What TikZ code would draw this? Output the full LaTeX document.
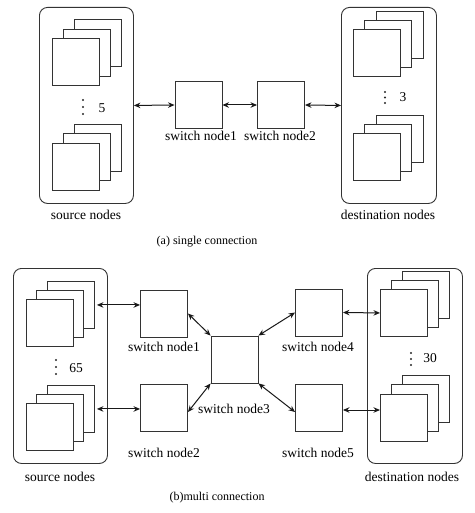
\documentclass[tikz,border=0pt]{standalone}
\usepackage{fontspec}
\setmainfont{Liberation Serif}
\newfontfamily\tnr{Liberation Serif}
\usetikzlibrary{arrows.meta}
\begin{document}
\begin{tikzpicture}[x=1pt,y=-1pt,
  box/.style={draw=black!80, line width=0.9pt, fill=white, minimum size=47pt, inner sep=0pt, anchor=north west},
  sw/.style={draw=black!80, line width=0.9pt, fill=white, minimum size=47pt, inner sep=0pt},
  cont/.style={draw=black!80, line width=0.9pt, rounded corners=8pt, inner sep=0pt, anchor=north west, minimum width=94pt, minimum height=196pt},
  lbl/.style={font=\tnr\fontsize{13.5}{15}\selectfont, inner sep=0pt},
  captxt/.style={font=\tnr\fontsize{12}{14}\selectfont, inner sep=0pt},
  link/.style={{Stealth[length=6.5pt,width=5.5pt]}-{Stealth[length=6.5pt,width=5.5pt]}, line width=1pt, draw=black!90},
  dotc/.style={fill=black!85}
]
\useasboundingbox (0,0) rectangle (474,513);

% ================= (a) single connection =================
\node[cont] (srcA) at (39,7) {};
\node[box] (sA1b) at (74,19) {};
\node[box] (sA1m) at (63,29) {};
\node[box] (sA1f) at (52,38) {};
\node[box] (sA2b) at (74,124) {};
\node[box] (sA2m) at (63,133) {};
\node[box] (sA2f) at (52,143) {};
\fill[dotc] (83,100) circle (1.1pt) (83,107) circle (1.1pt) (83,114) circle (1.1pt);
\node[lbl] (nA) at (102,108) {5};
\node[lbl] (srcAl) at (86,215) {source nodes};

\node[sw] (swA1) at (198.5,105) {};
\node[sw] (swA2) at (281,105) {};
\node[lbl] (swA1l) at (201,136) {switch node1};
\node[lbl] (swA2l) at (280,136) {switch node2};

\node[cont, minimum width=95pt] (dstA) at (341,7) {};
\node[box] (dA1b) at (376,11) {};
\node[box] (dA1m) at (364,20) {};
\node[box] (dA1f) at (353,29) {};
\node[box] (dA2b) at (376,115) {};
\node[box] (dA2m) at (364,124) {};
\node[box] (dA2f) at (353,133) {};
\fill[dotc] (385,92) circle (1.1pt) (385,97.5) circle (1.1pt) (385,103) circle (1.1pt);
\node[lbl] (nA3) at (403,97) {3};
\node[lbl] (dstAl) at (388,215) {destination nodes};

\draw[link] (srcA.east) -- (swA1.west);
\draw[link] (swA1.east) -- (swA2.west);
\draw[link] (swA2.east) -- (dstA.west);

\node[captxt] (capA) at (207,242) {(a) single connection};

% ================= (b) multi connection =================
\node[cont, minimum height=195pt] (srcB) at (13,268) {};
\node[box] (sB1b) at (47,281) {};
\node[box] (sB1m) at (36,290) {};
\node[box] (sB1f) at (26,299) {};
\node[box] (sB2b) at (47,385) {};
\node[box] (sB2m) at (36,394) {};
\node[box] (sB2f) at (26,403) {};
\fill[dotc] (56,360) circle (1.1pt) (56,367) circle (1.1pt) (56,374) circle (1.1pt);
\node[lbl] (nB) at (76,368) {65};
\node[lbl] (srcBl) at (60,477) {source nodes};

\node[sw] (swB1) at (164,313.5) {};
\node[sw] (swB2) at (164,408) {};
\node[sw] (swB3) at (234.5,359.5) {};
\node[sw] (swB4) at (319,312.5) {};
\node[sw] (swB5) at (319,408) {};
\node[lbl] (swB1l) at (164,347) {switch node1};
\node[lbl] (swB2l) at (164,453) {switch node2};
\node[lbl] (swB3l) at (234,409) {switch node3};
\node[lbl] (swB4l) at (318,347) {switch node4};
\node[lbl] (swB5l) at (318,453) {switch node5};

\node[cont, minimum width=95pt, minimum height=195pt] (dstB) at (367,268) {};
\node[box] (dB1b) at (402,271) {};
\node[box] (dB1m) at (391,280) {};
\node[box] (dB1f) at (380,289) {};
\node[box] (dB2b) at (402,375) {};
\node[box] (dB2m) at (391,384) {};
\node[box] (dB2f) at (380,394) {};
\fill[dotc] (411,353) circle (1.1pt) (411,359) circle (1.1pt) (411,365) circle (1.1pt);
\node[lbl] (nB30) at (430,358) {30};
\node[lbl] (dstBl) at (412,477) {destination nodes};

\draw[link, shorten <=2pt] (sB1b.east) -- (sB1b.east -| swB1.west);
\draw[link, shorten <=2pt] (sB2b.east) -- (sB2b.east -| swB2.west);
\draw[link] (swB3.north west) -- (swB1.east);
\draw[link] (swB3.south west) -- ([yshift=-4pt]swB2.east);
\draw[link] (swB3.north east) -- (swB4.west);
\draw[link] (swB3.south east) -- ([yshift=-4pt]swB5.west);
\draw[link] (swB4.east) -- (dB1f.west);
\draw[link] ([yshift=-2pt]swB5.east) -- ([yshift=-2pt]swB5.east -| dB2f.west);

\node[captxt] (capB) at (217,498) {(b)multi connection};
\end{tikzpicture}
\end{document}
